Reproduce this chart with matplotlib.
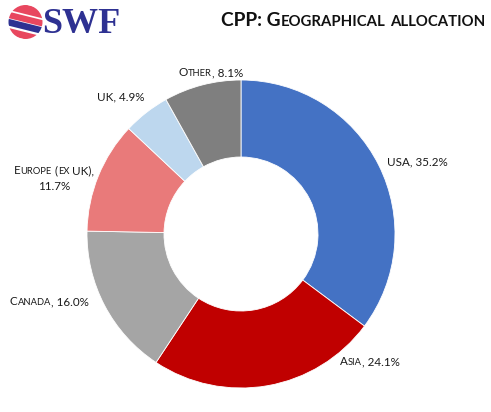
import numpy as np
import matplotlib
matplotlib.use("Agg")
import matplotlib.pyplot as plt
from matplotlib.patches import Circle, Rectangle
import matplotlib.transforms as mtrans

# ---- data ----
categories = ["USA", "Asia", "Canada", "Europe (ex UK)", "UK", "Other"]
shares = [35.2, 24.1, 16.0, 11.7, 4.9, 8.1]
colors = ["#4472C4", "#C00000", "#A5A5A5", "#E97A7A", "#BDD7EE", "#7F7F7F"]
title = "CPP: Geographical allocation"

W, H = 491, 412
fig = plt.figure(figsize=(W / 100, H / 100), dpi=100)
ax = fig.add_axes([0, 0, 1, 1])
ax.set_xlim(0, W)
ax.set_ylim(0, H)
ax.set_aspect("equal")
ax.axis("off")

cx, cy, R = 241, H - 234, 154
ax.pie(shares, colors=colors, startangle=90, counterclock=False,
       center=(cx, cy), radius=R,
       wedgeprops=dict(width=R * 0.5, edgecolor="white", linewidth=0.6))
ax.set_xlim(0, W)
ax.set_ylim(0, H)

renderer = fig.canvas.get_renderer()


def measure(t, fs, family, weight):
    tmp = fig.text(0, 0, t, fontsize=fs, fontfamily=family, fontweight=weight)
    w = tmp.get_window_extent(renderer).width
    tmp.remove()
    return w


def advance(t, fs, family, weight):
    return measure("|" + t + "|", fs, family, weight) - measure("||", fs, family, weight)


def smallcaps(x, y, s, size, ha="left", weight="normal", family="Lato",
              ratio=0.8, color="#1a1a1a"):
    runs = []
    for c in s:
        if c.isalpha() and c.islower():
            kind = "small"
        else:
            kind = "big"
        if runs and runs[-1][1] == kind:
            runs[-1][0] += c
        else:
            runs.append([c, kind])
    items = []
    total = 0.0
    for txt, kind in runs:
        fs = size * ratio if kind == "small" else size
        t = txt.upper() if kind == "small" else txt
        items.append((t, fs, total))
        total += advance(t, fs, family, weight)
    if ha == "center":
        shift = -total / 2
    elif ha == "right":
        shift = -total
    else:
        shift = 0
    base = fig.transFigure
    for t, fs, off in items:
        lead = len(t) - len(t.lstrip(" "))
        extra = advance(" " * lead, fs, family, weight) if lead else 0.0
        tr = mtrans.offset_copy(base, fig=fig, x=off + shift + extra, y=0, units="dots")
        fig.text(x / W, 1 - y / H, t.strip(" "), fontsize=fs, fontfamily=family,
                 fontweight=weight, color=color, ha="left", va="baseline",
                 transform=tr)


lab_fs = 8.4
label_pos = {
    "USA": (387, 165, "left"),
    "Asia": (340, 365, "left"),
    "Canada": (89, 305, "right"),
    "UK": (121, 100, "center"),
    "Other": (211, 76, "center"),
}
for cat, val in zip(categories, shares):
    if cat == "Europe (ex UK)":
        smallcaps(54, 174, f"{cat},", lab_fs, ha="center")
        smallcaps(54, 190, f"{val:.1f}%", lab_fs, ha="center")
    else:
        x, y, ha = label_pos[cat]
        smallcaps(x, y, f"{cat}, {val:.1f}%", lab_fs, ha=ha)

# title
smallcaps(221, 26, title, 13.8, ha="left", weight="bold", ratio=0.78, color="#111111")

# logo
lx, ly, lr = 25.5, H - 22, 17
circ = Circle((lx, ly), lr, transform=ax.transData, facecolor="none", edgecolor="none")
ax.add_patch(circ)
red, blue = "#E8475F", "#2E3192"
band_specs = [(0.45, 1.0, red), (-0.02, 0.35, red), (-0.45, -0.06, blue),
              (-1.0, -0.58, red)]
for y0, y1, col in band_specs:
    rect = Rectangle((lx - lr * 1.4, ly + y0 * lr), lr * 2.8, (y1 - y0) * lr,
                     facecolor=col, edgecolor="none",
                     transform=mtrans.Affine2D().rotate_deg_around(lx, ly, -14) + ax.transData)
    rect.set_clip_path(circ)
    ax.add_patch(rect)
fig.text(42 / W, 1 - 33 / H, "SWF", fontsize=26, fontfamily="Liberation Serif",
         fontweight="bold", color=blue, ha="left", va="baseline")

fig.savefig("out.png", dpi=100)
